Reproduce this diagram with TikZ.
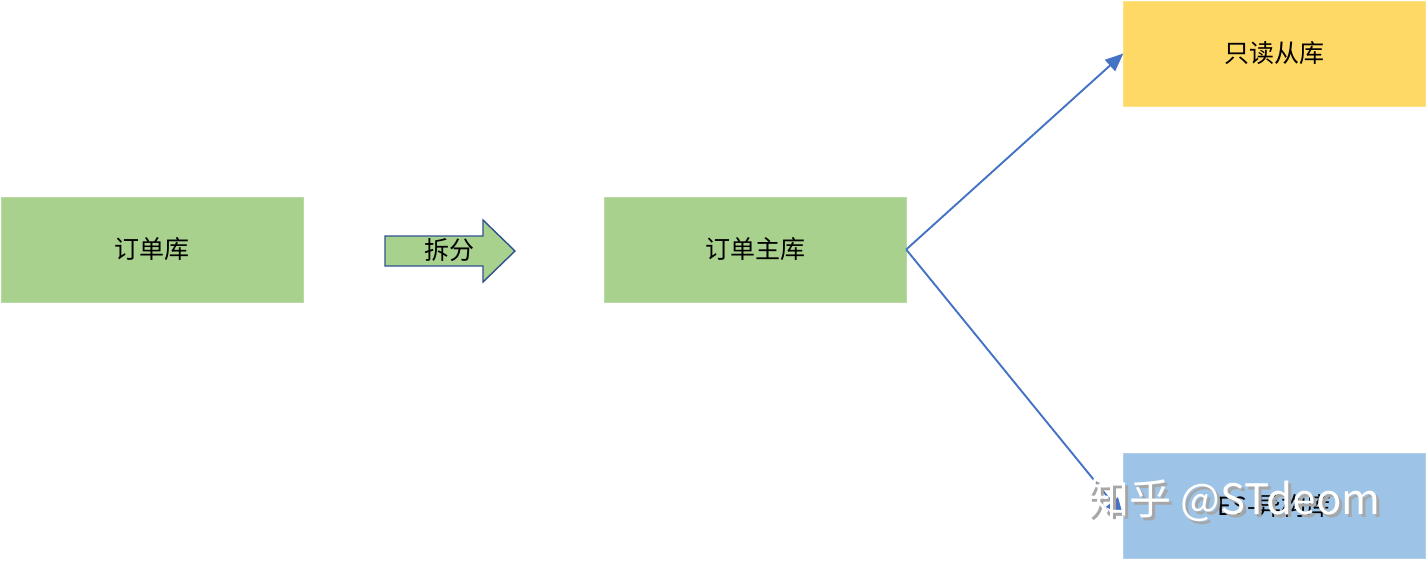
\documentclass[tikz,border=0pt]{standalone}
\usepackage{fontspec}
\setmainfont{Noto Sans CJK SC}
\newfontfamily\cjk{Noto Sans CJK SC}
\usetikzlibrary{arrows.meta}
\definecolor{boxgreen}{HTML}{A9D18E}
\definecolor{boxyellow}{HTML}{FFD966}
\definecolor{boxblue}{HTML}{9DC3E6}
\definecolor{linkblue}{HTML}{4472C4}
\definecolor{arrowedge}{HTML}{2F528F}
\tikzset{
  dbbox/.style={minimum width=302pt, minimum height=105pt, inner sep=0pt, font=\cjk\fontsize{25}{29}\selectfont, text=black},
  link/.style={draw=linkblue, line width=1.9pt, -{Triangle[length=18pt,width=15pt]}},
}
\begin{document}
\begin{tikzpicture}[x=1pt,y=-1pt]
\useasboundingbox (0,0) rectangle (1427,560);
\node[dbbox, fill=boxgreen, draw=boxgreen!80!white] (orig) at (152,249.5) {订单库};
\node[dbbox, fill=boxgreen, draw=boxgreen!80!white] (main) at (755,249.5) {订单主库};
\node[dbbox, fill=boxyellow, draw=boxyellow!80!white] (ro) at (1274.5,53.5) {只读从库};
\node[dbbox, fill=boxblue, draw=boxblue!80!white] (es) at (1274.5,506) {ES-异构库};
\draw[draw=arrowedge, fill=boxgreen, line width=1.4pt, line join=miter]
  (385,236) -- (483,236) -- (483,220) -- (515,251) -- (483,282) -- (483,266) -- (385,266) -- cycle;
\node[font=\cjk\fontsize{25}{29}\selectfont] (splitlabel) at (449,250) {拆分};
\draw[link] (main.east) -- (ro.west);
\draw[link] (main.east) -- ([yshift=-10pt]es.west);
\node[font=\cjk\fontsize{42}{46}\selectfont, text=gray!70] (wmshadow) at (1237,503) {知乎 @STdeom};
\node[font=\cjk\fontsize{42}{46}\selectfont, text=white] (wm) at (1234,500) {知乎 @STdeom};
\end{tikzpicture}
\end{document}
